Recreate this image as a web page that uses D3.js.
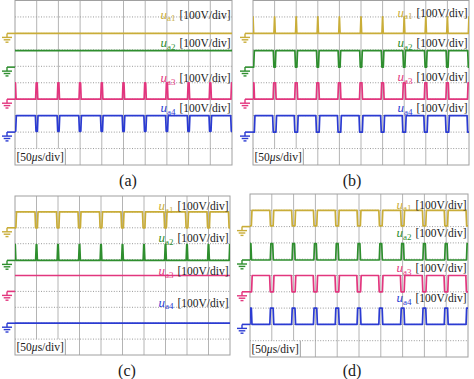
<!DOCTYPE html>
<html><head><meta charset="utf-8">
<script src="https://cdn.jsdelivr.net/npm/d3@7"></script>
<style>html,body{margin:0;padding:0;background:#fff;}svg{display:block;}text{font-family:"Liberation Serif","DejaVu Serif",serif;}</style>
</head><body><svg id="chart" width="474" height="379"></svg>
<script>
// ---------------- data ----------------
const panelIds = ['(a)', '(b)', '(c)', '(d)'];
const channelSubs = ['a1', 'a2', 'a3', 'a4'];
const channelColors = ['#c9ad38', '#2e8e2e', '#e2367e', '#2b3bd2'];
const voltLabel = '[100V/div]';
const timeDiv = 50;                      // µs per division
const pulseTimes = [0, 50, 100, 150, 200, 250, 300, 350, 400, 450, 500]; // µs
const groundDiv = [8, 5.95, 4, 2];       // ground marker of each channel (div from bottom)
// per panel, per channel: base level (V), pulse level (V), pulse width (µs)
const baseA = [0, 100, 0, 100],  pulseA = [0, 100, 100, 5],  widthA = [0, 0, 5, 6];
const baseB = [0, 100, 0, 100],  pulseB = [100, 0, 100, 0],  widthB = [3, 6, 7, 9];
const baseC = [100, 0, 100, 0],  pulseC = [0, 100, 100, 0],  widthC = [7, 4, 0, 0];
const baseD = [100, 0, 100, 0],  pulseD = [5, 100, 0, 100],  widthD = [9, 7, 10, 9];

const panelData = [
  {base: baseA, pulse: pulseA, width: widthA},
  {base: baseB, pulse: pulseB, width: widthB},
  {base: baseC, pulse: pulseC, width: widthC},
  {base: baseD, pulse: pulseD, width: widthD}
];

// ---------------- layout ----------------
const layout = [
  {x0: 15,  x1: 232, y0: 0.5, y1: 165, capX: 128, capY: 186, lab: [1.1, 2.85, 4.97, 6.8]},
  {x0: 253, x1: 469, y0: 0.5, y1: 165, capX: 352, capY: 186, lab: [1.0, 2.85, 4.9, 6.8]},
  {x0: 15,  x1: 230, y0: 196, y1: 355, capX: 127, capY: 376, lab: [0.9, 2.9, 4.97, 6.95]},
  {x0: 250, x1: 468, y0: 194, y1: 357, capX: 352, capY: 376, lab: [0.92, 2.65, 4.8, 6.65]}
];
const FONT = '"Liberation Serif","DejaVu Serif",serif';

const svg = d3.select('#chart');
const edge = 1.4; // µs rise/fall

layout.forEach((L, pi) => {
  const D = panelData[pi];
  const g = svg.append('g');
  const x = d3.scaleLinear().domain([0, 10 * timeDiv]).range([L.x0, L.x1]);
  const y = d3.scaleLinear().domain([0, 1000]).range([L.y1, L.y0]);
  const divH = (L.y1 - L.y0) / 10;

  // vertical grid
  const vt = d3.range(1, 10).map(i => i * timeDiv);
  g.selectAll('.vg').data(vt).join('line')
    .attr('x1', d => x(d)).attr('x2', d => x(d)).attr('y1', L.y0).attr('y2', L.y1)
    .attr('stroke', '#b4b4b4').attr('stroke-width', 1);

  // time scale box (covers vertical grid)
  const boxG = g.append('g');

  // horizontal dotted grid
  const ht = d3.range(100, 1000, 100);
  g.selectAll('.hg').data(ht).join('line')
    .attr('x1', L.x0).attr('x2', L.x1).attr('y1', d => y(d)).attr('y2', d => y(d))
    .attr('stroke', '#9a9a9a').attr('stroke-width', 1).attr('stroke-dasharray', '1,1.6');
  g.append('rect').attr('x', L.x0).attr('y', L.y0).attr('width', L.x1 - L.x0).attr('height', L.y1 - L.y0)
    .attr('fill', 'none').attr('stroke', '#a0a0a0').attr('stroke-width', 1);

  const clipId = 'clip' + pi;
  svg.append('clipPath').attr('id', clipId).append('rect')
    .attr('x', L.x0).attr('y', L.y0 - 5).attr('width', L.x1 - L.x0).attr('height', L.y1 - L.y0 + 10);

  const line = d3.line().x(d => x(d[0])).y(d => d[1]);

  channelColors.forEach((col, ci) => {
    const gnd = groundDiv[ci] * 100;
    const gy = y(gnd);
    const base = D.base[ci], pl = D.pulse[ci], w = D.width[ci];
    // ground marker
    const gx = L.x0 - 8;
    g.append('line').attr('x1', gx).attr('x2', L.x0).attr('y1', gy).attr('y2', gy)
      .attr('stroke', col).attr('stroke-width', 1.6);
    g.append('line').attr('x1', gx).attr('x2', gx).attr('y1', gy).attr('y2', gy + 4)
      .attr('stroke', col).attr('stroke-width', 1.4);
    [[5, 4], [3.3, 6.4], [1.5, 8.8]].forEach(([hw, dy]) => {
      g.append('line').attr('x1', gx - hw).attr('x2', gx + hw).attr('y1', gy + dy).attr('y2', gy + dy)
        .attr('stroke', col).attr('stroke-width', 1.4);
    });

    // trace
    let pts = [];
    if (w === 0) {
      pts = [[0, y(gnd + base)], [500, y(gnd + base)]];
    } else {
      pts.push([0, y(gnd)]);
      pts.push([0, y(gnd + pl)]);
      pulseTimes.forEach(c => {
        pts.push([c - w / 2, y(gnd + base)]);
        pts.push([c - w / 2 + edge, y(gnd + pl)]);
        pts.push([c + w / 2 - edge, y(gnd + pl)]);
        pts.push([c + w / 2, y(gnd + base)]);
      });
      pts.push([510, y(gnd + base)]);
      pts.splice(2, 2);
    }
    g.append('path').attr('d', line(pts)).attr('fill', 'none')
      .attr('stroke', col).attr('stroke-width', 1.7).attr('stroke-linejoin', 'round')
      .attr('clip-path', `url(#${clipId})`);

    // label
    const by = L.y0 + L.lab[ci] * divH;
    const vtxt = g.append('text').attr('x', L.x1 - 1.5).attr('y', by).attr('text-anchor', 'end')
      .attr('font-family', FONT).attr('font-size', 11.5).attr('fill', '#1a1a1a').text(voltLabel);
    const vw = vtxt.node().getComputedTextLength();
    const t = g.append('text').attr('x', L.x1 - 1.5 - vw - 4).attr('y', by).attr('text-anchor', 'end')
      .attr('font-family', FONT).attr('fill', col);
    t.append('tspan').attr('font-style', 'italic').attr('font-size', 13).text('u');
    t.append('tspan').attr('font-size', 9).attr('dy', 2.5).text(channelSubs[ci]);
  });

  // time scale label
  const tt = g.append('text').attr('x', L.x0 + 1.5).attr('y', L.y1 - 4.5)
    .attr('font-family', FONT).attr('font-size', 11.5).attr('fill', '#1a1a1a');
  tt.append('tspan').text('[' + timeDiv);
  tt.append('tspan').attr('font-style', 'italic').text('μ');
  tt.append('tspan').text('s/div]');
  const tw = tt.node().getComputedTextLength();
  boxG.append('rect').attr('x', L.x0).attr('y', L.y1 - divH).attr('width', tw + 3).attr('height', divH)
    .attr('fill', '#fff').attr('stroke', 'none');
  g.append('line').attr('x1', L.x0 + tw + 3).attr('x2', L.x0 + tw + 3)
    .attr('y1', L.y1 - divH).attr('y2', L.y1).attr('stroke', '#a0a0a0').attr('stroke-width', 1);

  // caption
  g.append('text').attr('x', L.capX).attr('y', L.capY).attr('text-anchor', 'middle')
    .attr('font-family', FONT).attr('font-size', 16).attr('fill', '#1a1a1a').text(panelIds[pi]);
});
</script></body></html>
